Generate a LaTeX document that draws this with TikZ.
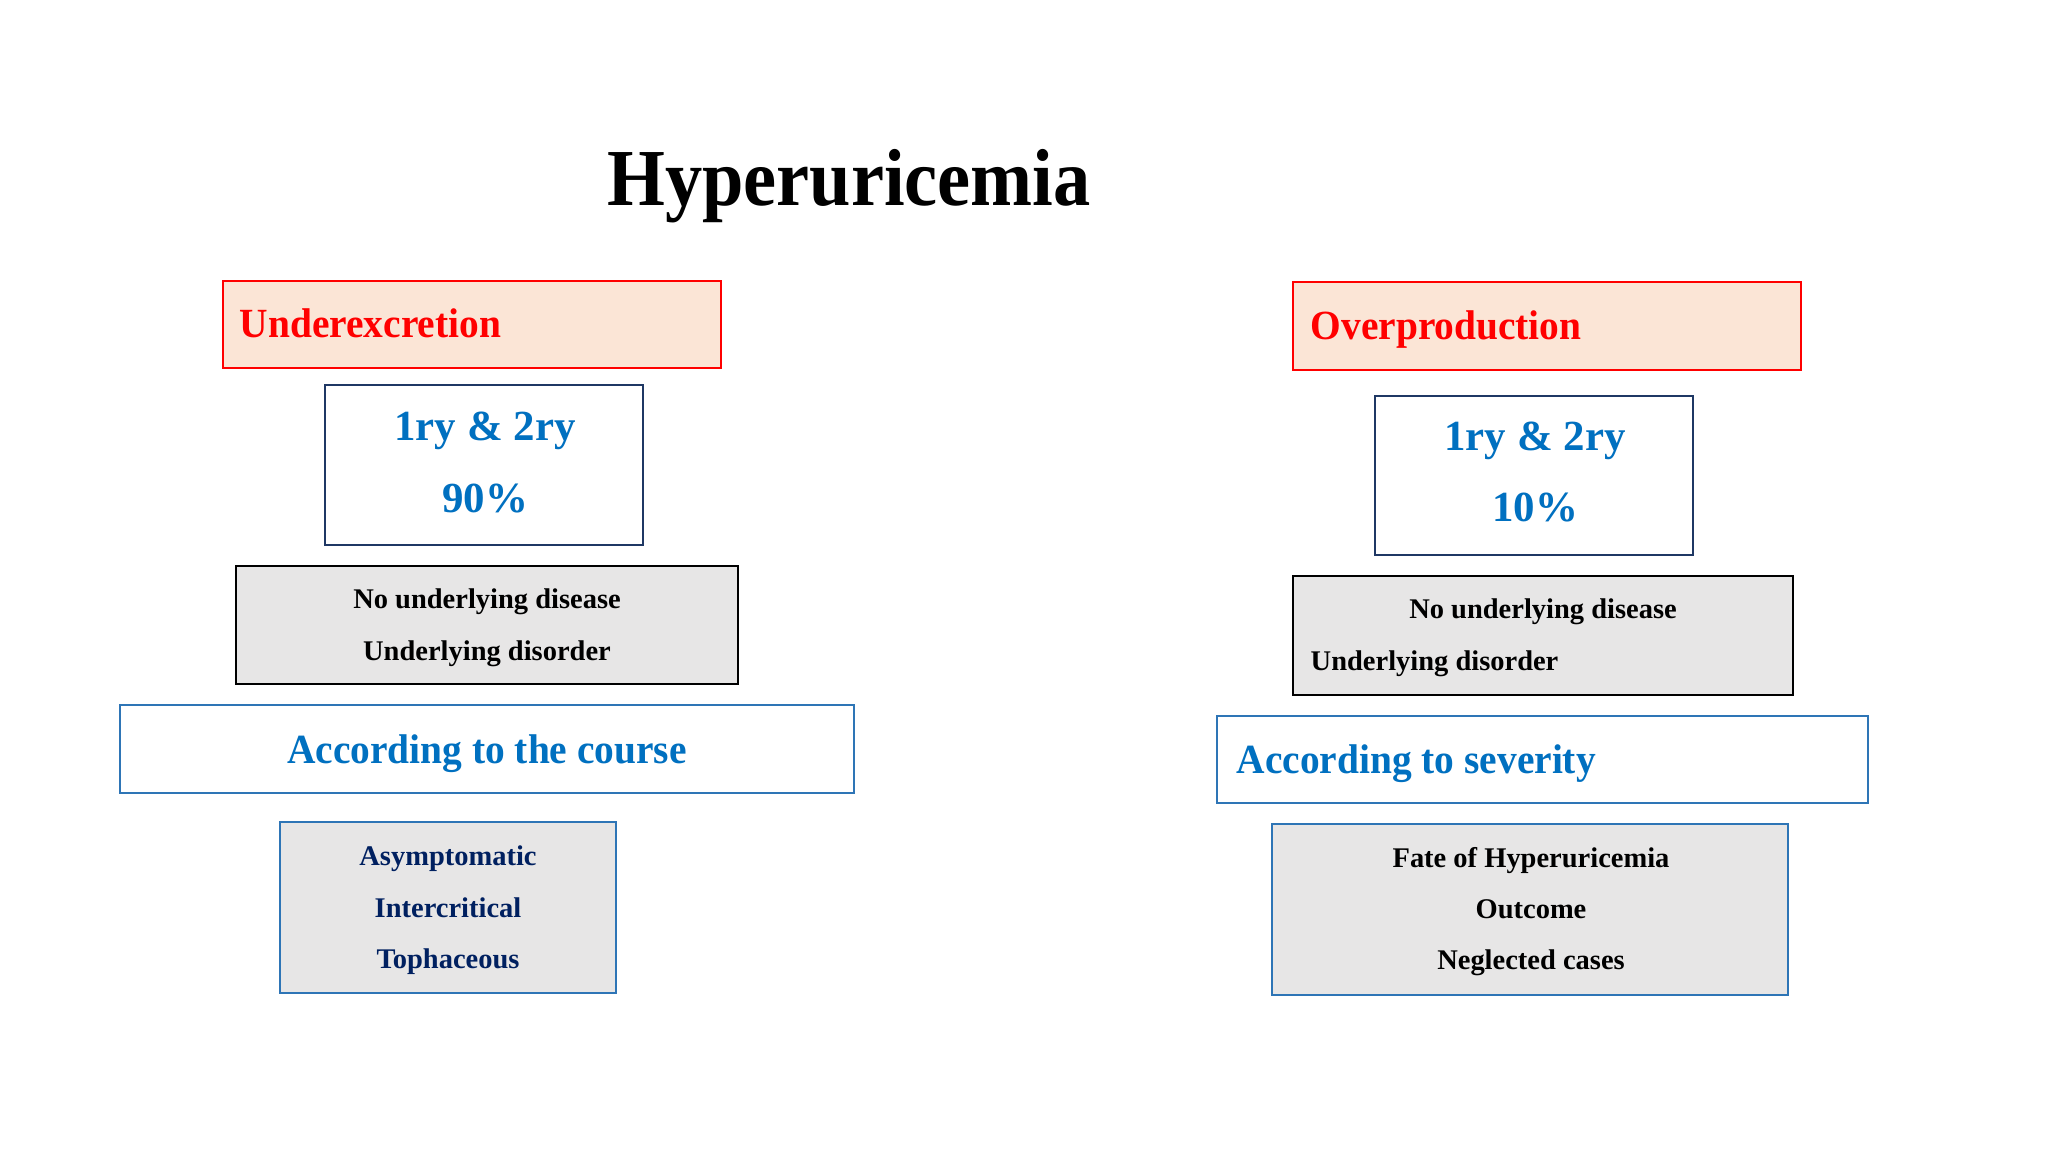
\documentclass[tikz,border=0pt]{standalone}
\usepackage{fontspec}
\setmainfont{Liberation Serif}
\newfontfamily\titlefont{Liberation Serif}[FakeStretch=0.92]
\newfontfamily\headfont{Liberation Serif}[FakeStretch=0.95]
\usepackage{xcolor}
\definecolor{hotred}{HTML}{FF0000}
\definecolor{peach}{HTML}{FBE5D6}
\definecolor{midblue}{HTML}{0070C0}
\definecolor{edgeblue}{HTML}{2E75B6}
\definecolor{navy}{HTML}{1F3864}
\definecolor{inkblue}{HTML}{002060}
\definecolor{lightgray}{HTML}{E7E6E6}

\begin{document}
\begin{tikzpicture}[x=0.01cm, y=-0.01cm, font=\bfseries,
    redbox/.style={draw=hotred, fill=peach, line width=0.6pt},
    pctbox/.style={draw=navy, fill=white, line width=0.6pt},
    graybox/.style={draw=black, fill=lightgray, line width=0.6pt},
    bluebox/.style={draw=edgeblue, fill=white, line width=0.6pt},
    listbox/.style={draw=edgeblue, fill=lightgray, line width=0.6pt},
    headtext/.style={font=\headfont\bfseries\fontsize{11.8}{14}\selectfont, inner sep=0pt},
    pcttext/.style={font=\bfseries\fontsize{12.2}{15}\selectfont, text=midblue, inner sep=0pt},
    smalltext/.style={font=\bfseries\fontsize{8.1}{10}\selectfont, inner sep=0pt}]
    \useasboundingbox (0,0) rectangle (2048,1152);
    \node[anchor=base, font=\titlefont\bfseries\fontsize{23}{28}\selectfont, inner sep=0pt] (title) at (849,206) {Hyperuricemia};
    % left column
    \draw[redbox] (223,281) rectangle (721,368);
    \node[headtext, text=hotred, anchor=base west] (under) at (239,338) {Underexcretion};
    \draw[pctbox] (325,385) rectangle (643,545);
    \node[pcttext, anchor=base] (typesL) at (485,441) {1ry \& 2ry};
    \node[pcttext, anchor=base] (pctL) at (485,513) {90\%};
    \draw[graybox] (236,566) rectangle (738,684);
    \node[smalltext, anchor=base] (noneL) at (487,609) {No underlying disease};
    \node[smalltext, anchor=base] (disL) at (487,660) {Underlying disorder};
    \draw[bluebox] (120,705) rectangle (854,793);
    \node[headtext, text=midblue, anchor=base] (course) at (487,763) {According to the course};
    \draw[listbox] (280,822) rectangle (616,993);
    \foreach \txt/\y [count=\i] in {Asymptomatic/865, Intercritical/917, Tophaceous/968}
        \node[smalltext, text=inkblue, anchor=base] (stage\i) at (448,\y) {\txt};
    % right column
    \draw[redbox] (1293,282) rectangle (1801,370);
    \node[headtext, text=hotred, anchor=base west] (over) at (1310,340) {Overproduction};
    \draw[pctbox] (1375,396) rectangle (1693,555);
    \node[pcttext, anchor=base] (typesR) at (1535,451) {1ry \& 2ry};
    \node[pcttext, anchor=base] (pctR) at (1535,522) {10\%};
    \draw[graybox] (1293,576) rectangle (1793,695);
    \node[smalltext, anchor=base] (noneR) at (1543,619) {No underlying disease};
    \node[smalltext, anchor=base west] (disR) at (1310,670) {Underlying disorder};
    \draw[bluebox] (1217,716) rectangle (1868,803);
    \node[headtext, text=midblue, anchor=base west] (severity) at (1236,773) {According to severity};
    \draw[listbox] (1272,824) rectangle (1788,995);
    \foreach \txt/\y [count=\i] in {Fate of Hyperuricemia/867, Outcome/918, Neglected cases/969}
        \node[smalltext, anchor=base] (fate\i) at (1531,\y) {\txt};
\end{tikzpicture}
\end{document}
